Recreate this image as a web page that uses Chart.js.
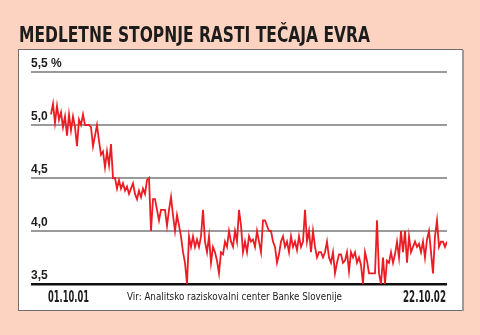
<!DOCTYPE html>
<html>
<head>
<meta charset="utf-8">
<script src="https://cdn.jsdelivr.net/npm/chart.js@4"></script>
<style>
  body { margin: 0; background: #fcd3c1; }
  canvas { display: block; }
</style>
</head>
<body>
<canvas id="mychart" width="480" height="335"></canvas>
<script>
const title = 'MEDLETNE STOPNJE RASTI TEČAJA EVRA';
const source = 'Vir: Analitsko raziskovalni center Banke Slovenije';
const dateLabels = ['01.10.01', '22.10.02'];
const yTicks = [3.5, 4.0, 4.5, 5.0, 5.5];

// annual growth rate, %, roughly every working day from 01.10.01 to 22.10.02
const rates = [
    5.10, 5.20, 5.02, 5.18, 5.05, 5.12, 4.98, 5.08, 4.90, 5.10,
    4.95, 5.08, 4.98, 4.80, 5.05, 5.00, 5.10, 5.00, 5.00, 5.00,
    4.98, 4.80, 4.90, 5.00, 4.85, 4.72, 4.75, 4.60, 4.75, 4.62,
    4.82, 4.50, 4.50, 4.40, 4.48, 4.40, 4.45, 4.38, 4.42, 4.35,
    4.40, 4.45, 4.35, 4.30, 4.38, 4.32, 4.40, 4.35, 4.48, 4.50,
    4.00, 4.30, 4.30, 4.20, 4.10, 4.20, 4.20, 4.20, 4.05, 4.20,
    4.32, 4.15, 4.00, 4.15, 4.05, 3.95, 3.80, 3.70, 3.50, 3.95,
    3.85, 3.95, 3.85, 3.92, 3.85, 3.95, 4.20, 3.90, 3.80, 3.95,
    3.70, 3.85, 3.80, 3.72, 3.60, 3.80, 3.78, 3.90, 3.85, 4.00,
    3.90, 3.85, 4.00, 3.90, 4.20, 4.05, 3.80, 3.90, 3.80, 3.95,
    3.90, 3.92, 3.85, 4.00, 3.90, 3.80, 4.10, 4.10, 4.05, 4.00,
    4.00, 3.90, 3.85, 3.70, 3.78, 3.90, 3.95, 3.85, 3.90, 3.80,
    3.95, 3.85, 3.90, 3.82, 3.95, 3.85, 3.90, 4.20, 3.90, 4.00,
    3.80, 4.00, 3.85, 3.75, 3.80, 3.80, 3.75, 3.80, 3.90, 3.75,
    3.70, 3.80, 3.60, 3.70, 3.78, 3.78, 3.70, 3.72, 3.80, 3.62,
    3.80, 3.75, 3.80, 3.70, 3.75, 3.68, 3.50, 3.80, 3.72, 3.60,
    3.60, 3.60, 3.60, 4.10, 3.60, 3.50, 3.75, 3.50, 3.72, 3.70,
    3.80, 3.70, 3.78, 3.90, 3.75, 4.00, 3.80, 4.00, 3.70, 3.95,
    3.80, 3.85, 3.90, 3.85, 3.88, 3.80, 3.90, 3.75, 3.92, 4.00,
    3.80, 3.60, 3.95, 4.10, 3.85, 3.90, 3.90, 3.85, 3.90
];

const narrow = '"Liberation Sans Narrow", "DejaVu Sans Condensed", sans-serif';

// draw text squeezed/stretched to a given width, x = left edge
function fitText(ctx, text, x, y, width, font, color) {
    ctx.save();
    ctx.font = font;
    ctx.fillStyle = color;
    ctx.textAlign = 'left';
    ctx.textBaseline = 'alphabetic';
    const w = ctx.measureText(text).width;
    ctx.translate(x, y);
    ctx.scale(width / w, 1);
    ctx.fillText(text, 0, 0);
    ctx.restore();
}

const frame = {
    id: 'frame',
    beforeDraw(chart) {
        const c = chart.ctx;
        c.save();
        c.fillStyle = '#fcd3c1';
        c.fillRect(0, 0, chart.width, chart.height);
        c.fillStyle = '#ffffff';
        c.fillRect(18, 49, 445, 262);
        c.strokeStyle = '#6e6e6e';
        c.lineWidth = 1;
        c.strokeRect(18.5, 49.5, 444, 261);
        c.strokeStyle = '#9a9a9a';
        c.lineWidth = 2;
        c.beginPath();
        c.moveTo(463, 50);
        c.lineTo(463, 311);
        c.stroke();
        c.restore();
    },
    afterDraw(chart) {
        const c = chart.ctx;
        fitText(c, title, 19, 42, 351, 'bold 22px ' + narrow, '#1c1c1c');
        fitText(c, dateLabels[0], 48, 302, 41, 'bold 15px ' + narrow, '#1c1c1c');
        fitText(c, dateLabels[1], 403, 302, 43, 'bold 15px ' + narrow, '#1c1c1c');
        fitText(c, source, 127, 300, 215, '11px ' + narrow, '#1c1c1c');
    }
};

new Chart(document.querySelector('#mychart'), {
    type: 'line',
    data: {
        datasets: [{
            data: rates.map((v, i) => ({ x: i, y: v })),
            borderColor: '#ec1c24',
            borderWidth: 1.8,
            pointRadius: 0,
            tension: 0
        }]
    },
    options: {
        responsive: false,
        animation: false,
        layout: { padding: { left: 31, right: 33, top: 72, bottom: 51 } },
        plugins: { legend: { display: false }, tooltip: { enabled: false } },
        scales: {
            x: {
                type: 'linear',
                min: -10,
                max: rates.length - 1,
                display: false
            },
            y: {
                min: 3.5,
                max: 5.5,
                afterFit: s => { s.width = 0; },
                afterBuildTicks: s => { s.ticks = yTicks.map(v => ({ value: v })); },
                border: { display: false },
                grid: {
                    drawTicks: false,
                    color: c => c.tick.value === 3.5 ? '#111111' : '#9a9a9a',
                    lineWidth: c => c.tick.value === 3.5 ? 2.5 : 2
                },
                ticks: {
                    mirror: true,
                    padding: 0,
                    labelOffset: -8,
                    color: '#1c1c1c',
                    font: { family: '"Liberation Sans", Arial, sans-serif', size: 12, weight: 'bold' },
                    callback: v => v.toFixed(1).replace('.', ',') + (v === 5.5 ? ' %' : '')
                }
            }
        }
    },
    plugins: [frame]
});
</script>
</body>
</html>
